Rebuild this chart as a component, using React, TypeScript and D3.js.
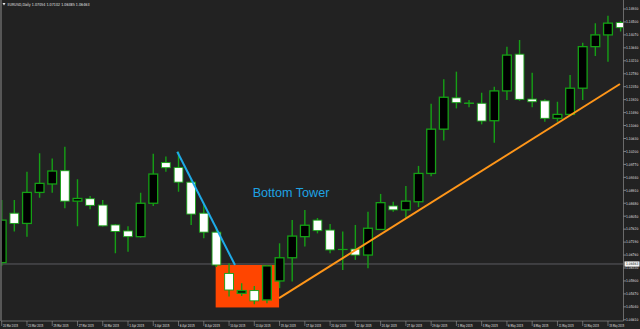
import React from 'react';
import * as d3 from 'd3';

// ---- data ----
const dates = [
  '20 Mar 2015', '22 Mar 2015', '23 Mar 2015', '24 Mar 2015', '25 Mar 2015', '26 Mar 2015', '27 Mar 2015',
  '29 Mar 2015', '30 Mar 2015', '31 Mar 2015', '1 Apr 2015', '2 Apr 2015', '3 Apr 2015',
  '5 Apr 2015', '6 Apr 2015', '7 Apr 2015', '8 Apr 2015', '9 Apr 2015', '10 Apr 2015',
  '12 Apr 2015', '13 Apr 2015', '14 Apr 2015', '15 Apr 2015', '16 Apr 2015', '17 Apr 2015',
  '19 Apr 2015', '20 Apr 2015', '21 Apr 2015', '22 Apr 2015', '23 Apr 2015', '24 Apr 2015',
  '26 Apr 2015', '27 Apr 2015', '28 Apr 2015', '29 Apr 2015', '30 Apr 2015', '1 May 2015',
  '3 May 2015', '4 May 2015', '5 May 2015', '6 May 2015', '7 May 2015', '8 May 2015',
  '10 May 2015', '11 May 2015', '12 May 2015', '13 May 2015', '14 May 2015', '15 May 2015', '17 May 2015',
];
const opens = [1.0651, 1.0815, 1.0781, 1.0884, 1.0912, 1.0956, 1.0855, 1.0863, 1.0842, 1.0776, 1.0756, 1.0737, 1.0848,
  1.0983, 1.0967, 1.0918, 1.0815, 1.0752, 1.0615, 1.0549, 1.0558, 1.0527, 1.0590, 1.0667, 1.0737, 1.0792, 1.0759,
  1.0695, 1.0696, 1.0676, 1.0761, 1.0839, 1.0826, 1.0853, 1.0947, 1.1094, 1.1198, 1.1181, 1.1180, 1.1122, 1.1221,
  1.1343, 1.1194, 1.1188, 1.1130, 1.1143, 1.1230, 1.1368, 1.1407, 1.1448];
const highs = [1.0859, 1.0859, 1.0953, 1.1014, 1.0997, 1.1036, 1.0928, 1.0872, 1.0859, 1.0779, 1.0772, 1.0883, 1.1012,
  1.1003, 1.1019, 1.0929, 1.0850, 1.0770, 1.0649, 1.0582, 1.0573, 1.0643, 1.0715, 1.0792, 1.0826, 1.0799, 1.0779,
  1.0754, 1.0776, 1.0820, 1.0879, 1.0853, 1.0905, 1.0972, 1.1178, 1.1260, 1.1285, 1.1191, 1.1215, 1.1235, 1.1368,
  1.1390, 1.1281, 1.1193, 1.1185, 1.1274, 1.1381, 1.1446, 1.1471, 1.1453];
const lows = [1.0640, 1.0754, 1.0737, 1.0866, 1.0883, 1.0831, 1.0772, 1.0828, 1.0771, 1.0682, 1.0687, 1.0734, 1.0839,
  1.0953, 1.0886, 1.0776, 1.0732, 1.0636, 1.0538, 1.0540, 1.0513, 1.0516, 1.0566, 1.0588, 1.0704, 1.0748, 1.0682,
  1.0626, 1.0660, 1.0632, 1.0759, 1.0820, 1.0798, 1.0835, 1.0938, 1.1056, 1.1163, 1.1167, 1.1110, 1.1049, 1.1191,
  1.1188, 1.1167, 1.1119, 1.1119, 1.1141, 1.1191, 1.1337, 1.1318, 1.1418];
const closes = [1.0792, 1.0781, 1.0884, 1.0914, 1.0955, 1.0855, 1.0864, 1.0841, 1.0773, 1.0754, 1.0737, 1.0848, 1.0945,
  1.0966, 1.0918, 1.0812, 1.0752, 1.0643, 1.0560, 1.0558, 1.0524, 1.0640, 1.0667, 1.0739, 1.0775, 1.0757, 1.0693,
  1.0694, 1.0676, 1.0765, 1.0850, 1.0826, 1.0855, 1.0947, 1.1094, 1.1200, 1.1182, 1.1179, 1.1121, 1.1221, 1.1340,
  1.1193, 1.1185, 1.1130, 1.1143, 1.1230, 1.1368, 1.1407, 1.1446, 1.1431];

const priceTicks = [1.14930, 1.14500, 1.14070, 1.13640, 1.13210, 1.12780, 1.12350, 1.11920, 1.11490, 1.11060,
  1.10630, 1.10200, 1.09770, 1.09340, 1.08910, 1.08480, 1.08050, 1.07620, 1.07190, 1.06760, 1.06330, 1.05900,
  1.05470, 1.05040, 1.04610];
const dateTickIdx = [0, 2, 4, 6, 8, 10, 12, 14, 16, 18, 20, 22, 24, 26, 28, 30, 32, 34, 36, 38, 40, 42, 44, 46, 48];

const bidPrice = 1.06463;
const titleText = 'EURUSD,Daily  1.07054 1.07102 1.06385 1.06463';

// overlays (bar index, price)
const towerLine: [number, number][] = [[13.9, 1.1019], [18.47, 1.0643]];
const towerBox = { i0: 16.94, i1: 21.96, p0: 1.0643, p1: 1.0502 };
const trendLine: [number, number][] = [[21.96, 1.0533], [48.95, 1.1244]];
const annotation = { text: 'Bottom Tower', i: 19.87, price: 1.0868 };

export default function App() {
  const W = 640, H = 329;
  const plotRight = 623.5, plotBottom = 321;
  const x = d3.scaleLinear().domain([0, 49]).range([1.7, 620.6]);
  const y = d3.scaleLinear().domain([1.0461, 1.1493]).range([319.8, 9]);
  const bw = 8.8;
  const green = '#15a015';
  const line = d3.line<[number, number]>().x(d => x(d[0])).y(d => y(d[1]));
  const font = 'Tahoma, "DejaVu Sans", sans-serif';

  return (
    <svg width={W} height={H} style={{ position: 'absolute', left: 0, top: 0, background: '#222222' }}>
      <defs>
        <clipPath id="plot">
          <rect x={1.5} y={0} width={plotRight - 1.5} height={plotBottom} />
        </clipPath>
      </defs>
      <rect x={0} y={0} width={W} height={H} fill="#222222" />
      <g clipPath="url(#plot)">
        {/* orange box behind candles */}
        <rect x={x(towerBox.i0)} y={y(towerBox.p0)} width={x(towerBox.i1) - x(towerBox.i0)}
          height={y(towerBox.p1) - y(towerBox.p0)} fill="#ff4500" />
        {/* bid line */}
        <line x1={0} x2={plotRight} y1={y(bidPrice)} y2={y(bidPrice)} stroke="#5c5c62" strokeWidth={1} />
        {/* candles */}
        {dates.map((d, i) => {
          const o = opens[i], c = closes[i];
          const bull = c > o;
          const top = y(Math.max(o, c));
          const bot = y(Math.min(o, c));
          return (
            <g key={d}>
              <line x1={x(i)} x2={x(i)} y1={y(highs[i])} y2={y(lows[i])} stroke={green} strokeWidth={1.4} />
              <rect x={x(i) - bw / 2} y={top} width={bw} height={Math.max(bot - top, 0.3)}
                fill={bull ? '#000000' : '#ffffff'} stroke={green} strokeWidth={bull ? 1.3 : 0.9} />
            </g>
          );
        })}
        <path d={line(towerLine) || ''} stroke="#1eaae8" strokeWidth={2} fill="none" />
        <path d={line(trendLine) || ''} stroke="#ff9619" strokeWidth={2} fill="none" />
        <text x={x(annotation.i)} y={y(annotation.price)} fill="#1ea3e3" fontSize={12.6}
          fontFamily='"Liberation Sans", Arial, sans-serif'>{annotation.text}</text>
      </g>
      {/* frame */}
      <line x1={1} x2={1} y1={0} y2={plotBottom} stroke="#6a6a6a" strokeWidth={1.5} />
      <line x1={1} x2={plotRight} y1={plotBottom} y2={plotBottom} stroke="#6a6a6a" strokeWidth={1} />
      <line x1={plotRight} x2={plotRight} y1={0} y2={plotBottom} stroke="#6a6a6a" strokeWidth={1} />
      {/* title */}
      <path d="M2.5,3 L5.5,3 L4,5.6 Z" fill="#e8e8e8" />
      <text x={7.5} y={6.4} fill="#e0e0e0" fontSize={4.2} fontFamily={font} textLength={82}
        lengthAdjust="spacingAndGlyphs">{titleText}</text>
      {/* price axis */}
      {priceTicks.map(p => (
        <g key={p}>
          <line x1={plotRight} x2={plotRight + 2.5} y1={y(p)} y2={y(p)} stroke="#9a9a9a" strokeWidth={0.8} />
          <text x={626} y={y(p) + 1.3} fill="#e0e0e0" fontSize={3.7} fontFamily={font} textLength={12.3}
            lengthAdjust="spacingAndGlyphs">{p.toFixed(5)}</text>
        </g>
      ))}
      <rect x={624.5} y={y(bidPrice) - 2.6} width={15} height={5.2} fill="#f4f4f4" />
      <text x={626} y={y(bidPrice) + 1.3} fill="#111" fontSize={3.7} fontFamily={font} textLength={12.3}
        lengthAdjust="spacingAndGlyphs">{bidPrice.toFixed(5)}</text>
      {/* date axis */}
      {dateTickIdx.map(i => (
        <g key={i}>
          <line x1={x(i)} x2={x(i)} y1={plotBottom} y2={plotBottom + 5} stroke="#9a9a9a" strokeWidth={0.6} />
          <text x={x(i) + 1.2} y={326.5} fill="#e0e0e0" fontSize={4} fontFamily={font} textLength={15}
            lengthAdjust="spacingAndGlyphs">{dates[i]}</text>
        </g>
      ))}
    </svg>
  );
}
